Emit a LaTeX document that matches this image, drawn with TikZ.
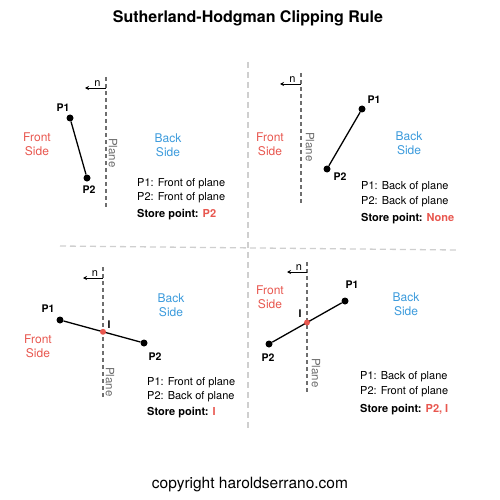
\documentclass[tikz,border=0pt]{standalone}
\usepackage{fontspec}
\setmainfont{TeX Gyre Heros}
\usetikzlibrary{arrows.meta}
\definecolor{frontred}{HTML}{E8574F}
\definecolor{backblue}{HTML}{3C9BDC}
\definecolor{planegray}{HTML}{6E6E6E}
\definecolor{gridgray}{HTML}{CFCFCF}
\tikzset{
    plane/.style={planegray, line width=1.6pt, dash pattern=on 4pt off 3pt},
    divider/.style={gridgray, line width=1.3pt, dash pattern=on 6pt off 4pt},
    normal/.style={-{Stealth[length=4pt,width=4pt]}, line width=0.8pt},
    segment/.style={line width=1.3pt},
    pt/.style={circle, fill=black, inner sep=0pt, minimum size=7pt},
    ipt/.style={circle, fill=frontred, inner sep=0pt, minimum size=6pt},
    lbl/.style={inner sep=0pt, font=\fontsize{10.5}{12}\selectfont\bfseries},
    side/.style={align=center, inner sep=0pt, font=\fontsize{12}{14}\selectfont},
    info/.style={anchor=west, inner sep=0pt, font=\fontsize{11}{13}\selectfont},
    planelbl/.style={planegray, rotate=-90, inner sep=0pt, font=\fontsize{11.5}{13}\selectfont},
    nlbl/.style={midway, above=0pt, xshift=2pt, inner sep=1pt, font=\fontsize{11}{13}\selectfont}
}
\begin{document}
\begin{tikzpicture}[x=1pt, y=-1pt]
    \useasboundingbox (0,0) rectangle (500,500);
    % title and footer
    \node[font=\fontsize{16}{19}\selectfont\bfseries] (title) at (248,18) {Sutherland-Hodgman Clipping Rule};
    \node[font=\fontsize{15.5}{18}\selectfont] (copy) at (250,485) {copyright haroldserrano.com};
    % quadrant dividers
    \coordinate (divL) at (60,246);
    \coordinate (divR) at (457,250);
    \coordinate (divT) at (248,62);
    \coordinate (divB) at (248,428);
    \draw[divider] (divL) -- (divR);
    \draw[divider] (divT) -- (divB);

    % case 1: both in front
    \coordinate (planeAtop) at (106,77);
    \coordinate (planeAbot) at (106,208);
    \draw[plane] (planeAtop) -- (planeAbot);
    \coordinate (nAtail) at (106,88);
    \coordinate (nAhead) at (85,88);
    \draw[normal] (nAtail) -- (nAhead) node[nlbl] {n};
    \node[planelbl] (planeA) at (113,153) {Plane};
    \node[pt] (aP1) at (70,118) {};
    \node[pt] (aP2) at (87,178) {};
    \draw[segment] (aP1) -- (aP2);
    \node[lbl] (aP1lbl) at (63,108) {P1};
    \node[lbl] (aP2lbl) at (89,190) {P2};
    \node[side, frontred] (aFront) at (37,144) {Front\\Side};
    \node[side, backblue] (aBack) at (168,145) {Back\\Side};
    \node[info] (aInfo1) at (137,184) {P1: Front of plane};
    \node[info] (aInfo2) at (137,198) {P2: Front of plane};
    \node[info] (aStore) at (137,215) {\bfseries Store point: \textcolor{frontred}{P2}};

    % case 2: both behind
    \coordinate (planeBtop) at (301,73);
    \coordinate (planeBbot) at (301,205);
    \draw[plane] (planeBtop) -- (planeBbot);
    \coordinate (nBtail) at (301,84);
    \coordinate (nBhead) at (280,84);
    \draw[normal] (nBtail) -- (nBhead) node[nlbl] {n};
    \node[planelbl] (planeB) at (310,147) {Plane};
    \node[pt] (bP1) at (362,109) {};
    \node[pt] (bP2) at (327,169) {};
    \draw[segment] (bP1) -- (bP2);
    \node[lbl] (bP1lbl) at (374,100) {P1};
    \node[lbl] (bP2lbl) at (340,177) {P2};
    \node[side, frontred] (bFront) at (270,144) {Front\\Side};
    \node[side, backblue] (bBack) at (409,143) {Back\\Side};
    \node[info] (bInfo1) at (361,187) {P1: Back of plane};
    \node[info] (bInfo2) at (361,202) {P2: Back of plane};
    \node[info] (bStore) at (361,219) {\bfseries Store point: \textcolor{frontred}{None}};

    % case 3: front to back
    \coordinate (planeCtop) at (103,267);
    \coordinate (planeCbot) at (103,398);
    \draw[plane] (planeCtop) -- (planeCbot);
    \coordinate (nCtail) at (103,278);
    \coordinate (nChead) at (83,278);
    \draw[normal] (nCtail) -- (nChead) node[nlbl] {n};
    \node[planelbl] (planeC) at (110,382) {Plane};
    \node[pt] (cP1) at (60,320) {};
    \node[pt] (cP2) at (144,343) {};
    \draw[segment] (cP1) -- (cP2);
    \node[ipt] (cI) at (103,331.8) {};
    \node[lbl] (cP1lbl) at (48,309) {P1};
    \node[lbl] (cP2lbl) at (155,357) {P2};
    \node[lbl] (cIlbl) at (109,325) {I};
    \node[side, frontred] (cFront) at (38,346) {Front\\Side};
    \node[side, backblue] (cBack) at (171,305) {Back\\Side};
    \node[info] (cInfo1) at (147,383) {P1: Front of plane};
    \node[info] (cInfo2) at (147,397) {P2: Back of plane};
    \node[info] (cStore) at (147,413) {\bfseries Store point: \textcolor{frontred}{I}};

    % case 4: back to front
    \coordinate (planeDtop) at (307,262);
    \coordinate (planeDbot) at (307,393);
    \draw[plane] (planeDtop) -- (planeDbot);
    \coordinate (nDtail) at (307,272);
    \coordinate (nDhead) at (287,272);
    \draw[normal] (nDtail) -- (nDhead) node[nlbl] {n};
    \node[planelbl] (planeD) at (316,373) {Plane};
    \node[pt] (dP1) at (345,301) {};
    \node[pt] (dP2) at (269,344) {};
    \draw[segment] (dP1) -- (dP2);
    \node[ipt] (dI) at (307,322.5) {};
    \node[lbl] (dP1lbl) at (352,285) {P1};
    \node[lbl] (dP2lbl) at (268,358) {P2};
    \node[lbl] (dIlbl) at (300,314) {I};
    \node[side, frontred] (dFront) at (270,297) {Front\\Side};
    \node[side, backblue] (dBack) at (406,304) {Back\\Side};
    \node[info] (dInfo1) at (360,377) {P1: Back of plane};
    \node[info] (dInfo2) at (360,392) {P2: Front of plane};
    \node[info] (dStore) at (360,410) {\bfseries Store point: \textcolor{frontred}{P2, I}};
\end{tikzpicture}
\end{document}
